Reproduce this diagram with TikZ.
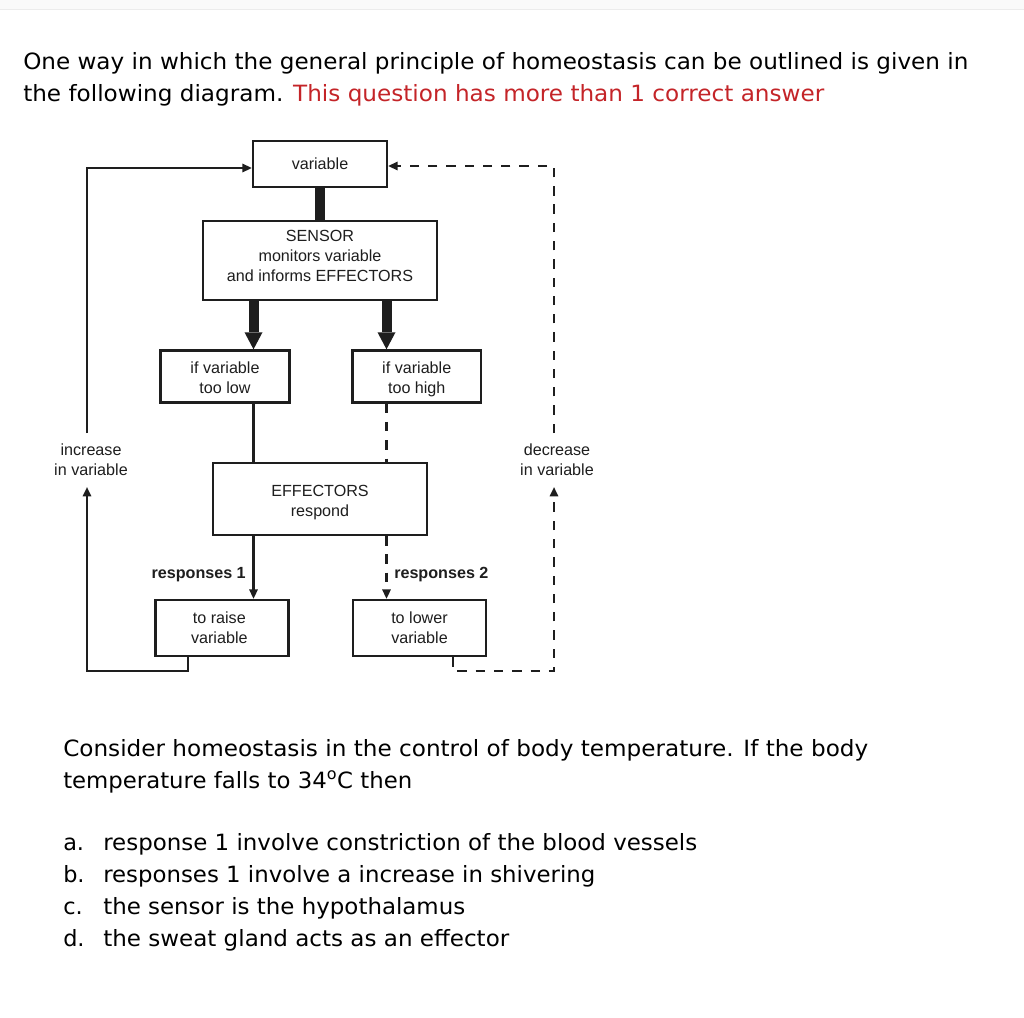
\documentclass[tikz,border=0pt]{standalone}
\usepackage{fontspec}
\usepackage{graphicx}
\usetikzlibrary{arrows.meta}
\newfontfamily\diagfont{Liberation Sans}
\newfontfamily\qfont{DejaVu Sans}
\definecolor{qred}{RGB}{196,36,40}
\definecolor{ink}{RGB}{30,30,30}
\newsavebox\fitbox
\newcommand\fitto[2]{\sbox\fitbox{#2}\scalebox{\fpeval{round((#1)*0.75/(\the\wd\fitbox),4)}}[1]{\usebox\fitbox}}
\newcommand\liftlines[2]{\raisebox{#1}[\height][\depth]{\begin{tabular}{@{}c@{}}#2\end{tabular}}}
\begin{document}
\begin{tikzpicture}[x=0.75pt,y=-0.75pt,
  box/.style={draw=ink,line width=1.8pt,inner sep=0pt,align=center,font=\diagfont\fontsize{12.1}{15}\selectfont,text=ink},
  conn/.style={draw=ink,line width=1.65pt},
  dconn/.style={conn,dash pattern=on 7pt off 6.7pt},
  sarrow/.style={-{Triangle[width=6.2pt,length=7pt]}},
  bigbar/.style={draw=ink,line width=7.5pt},
  bigarrow/.style={draw=ink,line width=7.5pt,-{Triangle[width=13.5pt,length=12.75pt,line width=0pt]}},
  lbl/.style={font=\diagfont\fontsize{12.1}{15}\selectfont,text=ink,align=center,inner sep=0pt},
  blbl/.style={font=\diagfont\bfseries\fontsize{12.1}{15}\selectfont,text=ink,inner sep=0pt},
  qtxt/.style={anchor=base west,inner sep=0pt,font=\qfont\fontsize{16.8}{24}\selectfont}
]
\path[use as bounding box,fill=white] (0,0) rectangle (1024,1017);
\fill[gray!4] (0,0) rectangle (1024,9);
\draw[gray!15,line width=0.75pt] (0,9.5) -- (1024,9.5);

% question text
\node[qtxt] (q1) at (23,69.5) {\fitto{945}{One way in which the general principle of homeostasis can be outlined is given in}};
\node[qtxt] (q2) at (23,101.5) {\fitto{801}{the following diagram. {\color{qred}This question has more than 1 correct answer}}};

% boxes
\node[box,minimum width=100.5pt,minimum height=34.5pt] (var) at (320,164) {\liftlines{-0.8pt}{variable}};
\node[box,minimum width=175.5pt,minimum height=59.25pt] (sensor) at (320,260.5) {\liftlines{2.2pt}{SENSOR\\monitors variable\\and informs EFFECTORS}};
\node[box,minimum width=96.75pt,minimum height=39pt] (low) at (225,376.5) {\liftlines{-2.6pt}{if variable\\too low}};
\node[box,minimum width=96.4pt,minimum height=39pt] (high) at (416.75,376.5) {\liftlines{-2.6pt}{if variable\\too high}};
\node[box,minimum width=160.5pt,minimum height=54pt] (eff) at (320,499) {\liftlines{-2.9pt}{EFFECTORS\\respond}};
\node[box,minimum width=99.75pt,minimum height=42pt] (raise) at (222,628) {\hspace*{-4pt}\liftlines{-1.1pt}{to raise\\variable}};
\node[box,minimum width=99.75pt,minimum height=42pt] (lower) at (419.5,628) {\liftlines{-1.1pt}{to lower\\variable}};

% labels
\node[lbl] (inc) at (91,459.5) {increase\\in variable};
\node[lbl] (dec) at (557,459.5) {decrease\\in variable};
\node[blbl,anchor=east] (r1) at (246,575) {responses 1};
\node[blbl,anchor=west] (r2) at (394,575) {responses 2};

% coordinates
\coordinate (la) at (253.5,0);
\coordinate (ra) at (386.5,0);
\coordinate (botl) at (87,671);
\coordinate (botr) at (554,671);
\coordinate (incup) at (87,487);
\coordinate (inctop) at (87,433);
\coordinate (decup) at (554,487);
\coordinate (dectop) at (554,433);
\coordinate (toplft) at (87,168);
\coordinate (toprgt) at (554,166);
\coordinate (rb) at (188,0);
\coordinate (lb) at (453,0);

% connectors
\draw[bigbar] (var.south) -- (sensor.north);
\draw[bigarrow] (sensor.south -| la) -- (low.north -| la);
\draw[bigarrow] (sensor.south -| ra) -- (high.north -| ra);
\draw[conn] (low.south -| la) -- (eff.north -| la);
\draw[conn,sarrow] (eff.south -| la) -- (raise.north -| la);
\draw[dconn] (high.south -| ra) -- (eff.north -| ra);
\draw[dconn,sarrow] (eff.south -| ra) -- (lower.north -| ra);
\draw[conn,sarrow] (raise.south -| rb) |- (botl) -- (incup);
\draw[conn,sarrow] (inctop) |- (var.west |- toplft);
\draw[dconn,sarrow] (lower.south -| lb) |- (botr) -- (decup);
\draw[dconn,sarrow] (dectop) |- (var.east |- toprgt);

% bottom question
\node[qtxt] (c1) at (63,756) {\fitto{805}{Consider homeostasis in the control of body temperature. If the body}};
\node[qtxt] (c2) at (63,788) {\fitto{349}{temperature falls to 34\textsuperscript{o}C then}};
\node[qtxt] (ma) at (63,850.5) {a.};
\node[qtxt] (ta) at (103,850.5) {\fitto{594}{response 1 involve constriction of the blood vessels}};
\node[qtxt] (mb) at (63,882) {b.};
\node[qtxt] (tb) at (103,882) {\fitto{492}{responses 1 involve a increase in shivering}};
\node[qtxt] (mc) at (63,914) {c.};
\node[qtxt] (tc) at (103,914) {\fitto{362}{the sensor is the hypothalamus}};
\node[qtxt] (md) at (63,946) {d.};
\node[qtxt] (td) at (103,946) {\fitto{406}{the sweat gland acts as an effector}};
\end{tikzpicture}
\end{document}
